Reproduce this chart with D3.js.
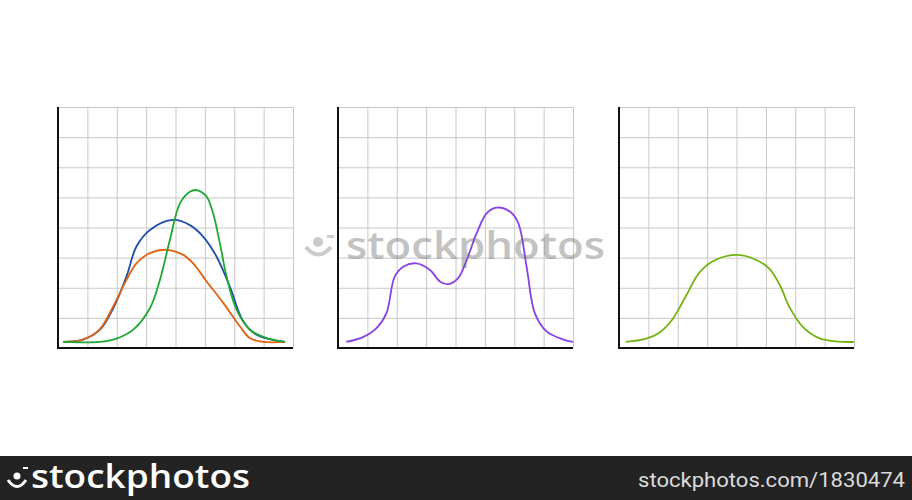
<!DOCTYPE html>
<html>
<head>
<meta charset="utf-8">
<script src="https://cdn.jsdelivr.net/npm/d3@7"></script>
<style>
  body { margin: 0; background: #fff; }
  svg { display: block; }
</style>
</head>
<body>
<div id="chart"></div>
<script>
// curve data, in grid units (8 x 8 cells per panel)
var blueX   = [0.17, 0.85, 1.42, 1.88, 2.33, 2.67, 3.13, 3.92, 4.49, 4.94, 5.40, 5.85, 6.31, 6.76, 7.73];
var blueY   = [0.20, 0.28, 0.60, 1.32, 2.37, 3.37, 3.92, 4.25, 4.08, 3.70, 3.03, 2.04, 0.88, 0.44, 0.20];

var orangeX = [0.17, 0.85, 1.42, 1.88, 2.33, 2.67, 3.13, 3.69, 4.26, 4.60, 5.06, 5.63, 6.19, 6.53, 6.99, 7.73];
var orangeY = [0.20, 0.28, 0.62, 1.38, 2.26, 2.81, 3.15, 3.26, 3.09, 2.81, 2.21, 1.49, 0.72, 0.33, 0.20, 0.20];

var greenX  = [0.17, 1.42, 1.99, 2.56, 3.13, 3.47, 3.81, 4.15, 4.49, 4.72, 5.06, 5.28, 5.51, 5.74, 6.08, 6.53, 7.10, 7.73];
var greenY  = [0.20, 0.20, 0.31, 0.61, 1.32, 2.26, 3.59, 4.80, 5.19, 5.24, 5.02, 4.47, 3.48, 2.37, 1.27, 0.61, 0.33, 0.20];

var purpleX = [0.28, 0.85, 1.31, 1.65, 1.93, 2.22, 2.67, 3.13, 3.47, 3.75, 4.09, 4.38, 4.72, 5.06, 5.40, 5.85, 6.14, 6.42, 6.70, 7.10, 7.67, 8.00];
var purpleY = [0.20, 0.36, 0.66, 1.16, 2.37, 2.70, 2.81, 2.59, 2.21, 2.12, 2.32, 2.92, 3.81, 4.47, 4.66, 4.53, 4.14, 2.70, 1.16, 0.55, 0.28, 0.20];

var limeX   = [0.23, 0.90, 1.36, 1.81, 2.27, 2.72, 3.18, 3.97, 4.54, 5.10, 5.50, 5.79, 6.24, 6.81, 7.38, 8.00];
var limeY   = [0.20, 0.30, 0.50, 0.94, 1.71, 2.48, 2.87, 3.09, 2.98, 2.65, 2.04, 1.38, 0.72, 0.33, 0.22, 0.20];

var gridTicks = [0, 1, 2, 3, 4, 5, 6, 7, 8];

var panels = [
    { left: 58,  series: [ {x: blueX, y: blueY, color: "#1d4fb0"},
                           {x: orangeX, y: orangeY, color: "#e2620f"},
                           {x: greenX, y: greenY, color: "#1fa830"} ] },
    { left: 338, series: [ {x: purpleX, y: purpleY, color: "#8842e6"} ] },
    { left: 619, series: [ {x: limeX, y: limeY, color: "#72b312"} ] }
];

var w = 912, h = 500;
var panelTop = 107, width = 235, height = 241;

var svg = d3.select("#chart")
    .append("svg")
    .attr("width", w)
    .attr("height", h);

svg.append("rect").attr("width", w).attr("height", h).attr("fill", "#fff");

var x = d3.scaleLinear().domain([0, 8]).range([0, width]);
var y = d3.scaleLinear().domain([0, 8]).range([height, 0]);

var line = d3.line()
    .x(function(d) { return x(d[0]); })
    .y(function(d) { return y(d[1]); })
    .curve(d3.curveCatmullRom.alpha(0.5));

panels.forEach(function(p) {
    var g = svg.append("g")
        .attr("transform", "translate(" + p.left + "," + panelTop + ")");

    // grid
    g.append("g")
        .attr("class", "grid")
        .attr("transform", "translate(0," + height + ")")
        .call(d3.axisBottom(x).tickValues(gridTicks).tickSize(-height).tickFormat(""));
    g.append("g")
        .attr("class", "grid")
        .call(d3.axisLeft(y).tickValues(gridTicks).tickSize(-width).tickFormat(""));
    g.selectAll(".grid .domain").remove();
    g.selectAll(".grid line").attr("stroke", "#c8c8c8").attr("stroke-width", 1);

    // axes
    g.append("line")
        .attr("x1", x(0)).attr("x2", x(0))
        .attr("y1", y(8)).attr("y2", y(0) + 1)
        .attr("stroke", "#111").attr("stroke-width", 2);
    g.append("line")
        .attr("x1", x(0) - 1).attr("x2", x(8))
        .attr("y1", y(0)).attr("y2", y(0))
        .attr("stroke", "#111").attr("stroke-width", 2);

    p.series.forEach(function(s) {
        var pts = s.x.map(function(v, i) { return [v, s.y[i]]; });
        g.append("path")
            .datum(pts)
            .attr("d", line)
            .attr("fill", "none")
            .attr("stroke", s.color)
            .attr("stroke-width", 1.8);
    });
});

// faint watermark in the middle
var wm = svg.append("g").attr("opacity", 0.4);
wm.append("circle").attr("cx", 318).attr("cy", 242).attr("r", 5).attr("fill", "#808080");
wm.append("path")
    .attr("d", "M306,247 Q318,262 331,247")
    .attr("fill", "none").attr("stroke", "#808080").attr("stroke-width", 4);
wm.append("rect").attr("x", 327).attr("y", 235).attr("width", 7).attr("height", 3).attr("fill", "#808080");
wm.append("text")
    .attr("x", 346).attr("y", 259)
    .attr("font-family", "Open Sans, sans-serif")
    .attr("font-size", 38)
    .attr("font-weight", 600)
    .attr("textLength", 259)
    .attr("lengthAdjust", "spacingAndGlyphs")
    .attr("fill", "#6a6a6a")
    .text("stockphotos");

// bottom bar
svg.append("rect")
    .attr("x", 0).attr("y", 456)
    .attr("width", w).attr("height", 44)
    .attr("fill", "#232323");
svg.append("circle").attr("cx", 17).attr("cy", 476).attr("r", 3.5).attr("fill", "#fff");
svg.append("path")
    .attr("d", "M8,480 Q17,493 26,480")
    .attr("fill", "none").attr("stroke", "#fff").attr("stroke-width", 3);
svg.append("rect").attr("x", 23).attr("y", 467).attr("width", 5).attr("height", 2).attr("fill", "#fff");
svg.append("text")
    .attr("x", 31).attr("y", 488)
    .attr("font-family", "Open Sans, sans-serif")
    .attr("font-size", 33)
    .attr("font-weight", 600)
    .attr("textLength", 219)
    .attr("lengthAdjust", "spacingAndGlyphs")
    .attr("fill", "#fff")
    .text("stockphotos");
svg.append("text")
    .attr("x", 905).attr("y", 487)
    .attr("text-anchor", "end")
    .attr("font-family", "Roboto, sans-serif")
    .attr("font-size", 20)
    .attr("textLength", 267)
    .attr("lengthAdjust", "spacingAndGlyphs")
    .attr("fill", "#dcdcdc")
    .text("stockphotos.com/1830474");
</script>
</body>
</html>
